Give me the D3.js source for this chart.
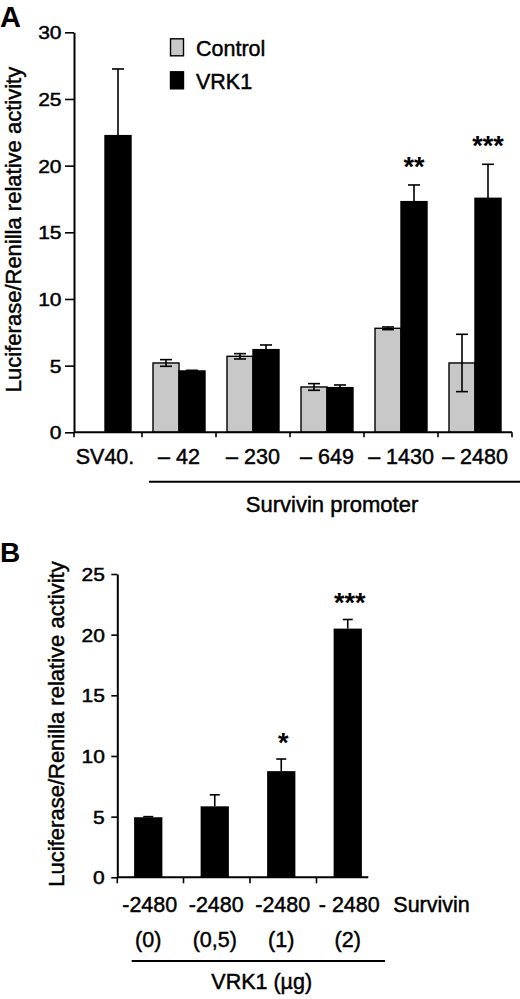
<!DOCTYPE html>
<html><head><meta charset="utf-8">
<script src="https://cdn.jsdelivr.net/npm/d3@7"></script>
<style>
body{margin:0;background:#fff}
svg{display:block}
text{font-family:"Liberation Sans",Arial,Helvetica,sans-serif;fill:#000;stroke:#000;stroke-width:0.45px}
</style>
</head><body>
<svg id="c" width="520" height="999"></svg>
<script>
// ---------- Panel A data ----------
const categoriesA = ["SV40.", "– 42", "– 230", "– 649", "– 1430", "– 2480"];
const seriesA = ["Control", "VRK1"];
const controlValues = [null, 5.2, 5.7, 3.4, 7.8, 5.2];
const controlErrors = [null, 0.25, 0.2, 0.25, 0.1, 2.15];
const vrk1Values = [22.25, 4.6, 6.2, 3.35, 17.3, 17.55];
const vrk1Errors = [5.0, 0.05, 0.35, 0.2, 1.25, 2.55];
const starsA = ["", "", "", "", "**", "***"];
const ticksA = [0, 5, 10, 15, 20, 25, 30];
const groupLabelA = "Survivin promoter";
const yTitle = "Luciferase/Renilla relative activity";

// ---------- Panel B data ----------
const promoterLabelsB = ["-2480", "-2480", "-2480", "- 2480"];
const doseLabelsB = ["(0)", "(0,5)", "(1)", "(2)"];
const valuesB = [4.95, 5.85, 8.75, 20.5];
const errorsB = [0.05, 0.95, 1.0, 0.75];
const starsB = ["", "", "*", "***"];
const ticksB = [0, 5, 10, 15, 20, 25];
const rowLabelB = "Survivin";
const groupLabelB = "VRK1 (µg)";

const svg = d3.select("#c");
const CONTROL_FILL = "#c8c8c8";

function label(g, str, x, y, o) {
  o = Object.assign({size: 21.5, anchor: "middle", sx: 1, weight: "normal", rotate: 0}, o || {});
  return g.append("text")
    .attr("transform", `translate(${x},${y})${o.rotate ? ` rotate(${o.rotate})` : ""} scale(${o.sx},1)`)
    .attr("text-anchor", o.anchor)
    .style("font-size", o.size + "px")
    .style("font-weight", o.weight)
    .style("stroke-width", o.weight === "bold" ? "0px" : null)
    .text(str);
}

function styleYAxis(g) {
  g.select(".domain").attr("stroke", "#000").attr("stroke-width", 2);
  g.selectAll(".tick line").attr("stroke", "#000").attr("stroke-width", 1.6);
  g.selectAll(".tick text")
    .attr("x", null).attr("dy", null)
    .attr("transform", "translate(-12.5,6.4) scale(1.2,1)")
    .attr("text-anchor", "end")
    .style("font-size", "17.5px")
    .style("font-family", '"Liberation Sans",Arial,sans-serif')
    .attr("fill", "#000");
}

// ================= PANEL A =================
const gA = svg.append("g");
const axA = 74;
const yA = d3.scaleLinear().domain([0, 30]).range([432.3, 32.3]);
const xA = d3.scaleBand().domain(categoriesA).range([68, 512]).paddingInner(0).paddingOuter(0);
const x1A = d3.scaleBand().domain(seriesA).range([0, xA.bandwidth()]).paddingInner(0).paddingOuter(0.423);

const rowsA = categoriesA.map((c, i) => ({
  cat: c,
  items: [
    {key: "Control", v: controlValues[i], e: controlErrors[i]},
    {key: "VRK1", v: vrk1Values[i], e: vrk1Errors[i]}
  ].filter(d => d.v != null),
  star: starsA[i]
}));

const grpA = gA.selectAll("g.grp").data(rowsA).join("g")
  .attr("class", "grp")
  .attr("transform", d => `translate(${xA(d.cat)},0)`);

grpA.selectAll("rect").data(d => d.items).join("rect")
  .attr("x", d => x1A(d.key))
  .attr("width", x1A.bandwidth())
  .attr("y", d => yA(d.v))
  .attr("height", d => yA(0) - yA(d.v))
  .attr("fill", d => d.key === "Control" ? CONTROL_FILL : "#000")
  .attr("stroke", "#000")
  .attr("stroke-width", 1.4);

const capA = 6;
grpA.selectAll("g.err").data(d => d.items).join("g").attr("class", "err")
  .each(function(d) {
    const g = d3.select(this);
    const cx = x1A(d.key) + x1A.bandwidth() / 2;
    g.append("line").attr("x1", cx).attr("x2", cx).attr("y1", yA(d.v - d.e)).attr("y2", yA(d.v + d.e));
    g.append("line").attr("x1", cx - capA).attr("x2", cx + capA).attr("y1", yA(d.v + d.e)).attr("y2", yA(d.v + d.e));
    g.append("line").attr("x1", cx - capA).attr("x2", cx + capA).attr("y1", yA(d.v - d.e)).attr("y2", yA(d.v - d.e));
  })
  .selectAll("line").attr("stroke", "#000").attr("stroke-width", 1.6);

grpA.each(function(d) {
  if (!d.star) return;
  const vr = d.items.find(it => it.key === "VRK1");
  label(d3.select(this), d.star, x1A("VRK1") + x1A.bandwidth() / 2, yA(vr.v + vr.e) - 9, {size: 27, weight: "bold"});
});

gA.append("g").attr("transform", `translate(${axA},0)`)
  .call(d3.axisLeft(yA).tickValues(ticksA).tickSize(9).tickSizeOuter(0))
  .call(styleYAxis);

const x0A = yA(0);
gA.append("line").attr("x1", axA).attr("x2", xA.range()[1]).attr("y1", x0A).attr("y2", x0A)
  .attr("stroke", "#000").attr("stroke-width", 2);
const tickXA = [axA].concat(categoriesA.slice(1).map(c => xA(c))).concat([xA.range()[1]]);
gA.selectAll("line.xt").data(tickXA).join("line").attr("class", "xt")
  .attr("x1", d => d).attr("x2", d => d).attr("y1", x0A).attr("y2", x0A + 5)
  .attr("stroke", "#000").attr("stroke-width", 1.6);
categoriesA.forEach(c => label(gA, c, xA(c) + xA.bandwidth() / 2, 463.5));

gA.append("line").attr("x1", xA(categoriesA[1]) + 7).attr("x2", 520).attr("y1", 481.7).attr("y2", 481.7)
  .attr("stroke", "#000").attr("stroke-width", 2);
label(gA, groupLabelA, (xA(categoriesA[1]) + 7 + 512) / 2 + 1.5, 511.5, {size: 22});

const legA = gA.append("g");
seriesA.forEach((s, i) => {
  legA.append("rect").attr("x", 170.5).attr("y", 38.8 + i * 33).attr("width", 13).attr("height", 17)
    .attr("fill", s === "Control" ? CONTROL_FILL : "#000").attr("stroke", "#000").attr("stroke-width", 1.4);
  label(legA, s, 196, 56 + i * 33, {anchor: "start"});
});

label(gA, yTitle, 20.5, 229.5, {size: 22, rotate: -90});
label(gA, "A", 0, 26.5, {size: 29, weight: "bold", anchor: "start"});

// ================= PANEL B =================
const gB = svg.append("g");
const axB = 117.3;
const yB = d3.scaleLinear().domain([0, 25]).range([877.3, 574]);
const idxB = valuesB.map((_, i) => i);
const xB = d3.scaleBand().domain(idxB).range([115, 381]).paddingInner(0.575).paddingOuter(0.2875);

gB.selectAll("rect").data(idxB).join("rect")
  .attr("x", i => xB(i)).attr("width", xB.bandwidth())
  .attr("y", i => yB(valuesB[i])).attr("height", i => yB(0) - yB(valuesB[i]))
  .attr("fill", "#000");

const capB = 5;
idxB.forEach(i => {
  const cx = xB(i) + xB.bandwidth() / 2;
  const top = yB(valuesB[i] + errorsB[i]);
  gB.append("line").attr("x1", cx).attr("x2", cx).attr("y1", yB(valuesB[i])).attr("y2", top)
    .attr("stroke", "#000").attr("stroke-width", 1.6);
  gB.append("line").attr("x1", cx - capB).attr("x2", cx + capB).attr("y1", top).attr("y2", top)
    .attr("stroke", "#000").attr("stroke-width", 1.6);
  if (starsB[i]) label(gB, starsB[i], cx + 2, top - 7, {size: 27, weight: "bold"});
});

gB.append("g").attr("transform", `translate(${axB},0)`)
  .call(d3.axisLeft(yB).tickValues(ticksB).tickSize(6).tickSizeOuter(0))
  .call(styleYAxis);

const x0B = yB(0);
gB.append("line").attr("x1", axB).attr("x2", 368.3).attr("y1", x0B).attr("y2", x0B)
  .attr("stroke", "#000").attr("stroke-width", 2);
const stepB = xB.step();
const tickXB = [axB].concat(idxB.slice(1).map(i => xB(i) - (stepB - xB.bandwidth()) / 2 + 2));
gB.selectAll("line.xt").data(tickXB).join("line").attr("class", "xt")
  .attr("x1", d => d).attr("x2", d => d).attr("y1", x0B).attr("y2", x0B + 6)
  .attr("stroke", "#000").attr("stroke-width", 1.6);

idxB.forEach(i => {
  const cx = xB(i) + xB.bandwidth() / 2;
  label(gB, promoterLabelsB[i], cx + 1.5, 911.7);
  label(gB, doseLabelsB[i], cx, 946.7);
});
label(gB, rowLabelB, 393.3, 911.7, {anchor: "start"});

gB.append("line").attr("x1", 131.7).attr("x2", 385).attr("y1", 961).attr("y2", 961)
  .attr("stroke", "#000").attr("stroke-width", 2);
label(gB, groupLabelB, 261.7, 989);

label(gB, yTitle, 64, 724, {size: 22, rotate: -90});
label(gB, "B", 0, 561.7, {size: 28, weight: "bold", anchor: "start"});
</script>
</body></html>
